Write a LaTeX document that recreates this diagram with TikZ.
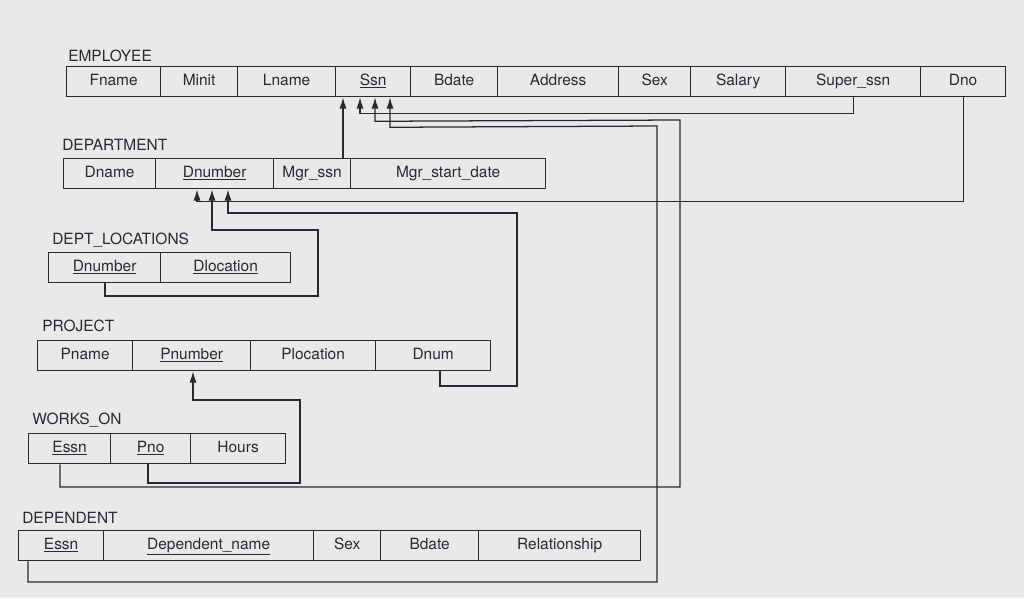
\documentclass[tikz,border=0pt]{standalone}
\usepackage{fontspec}
\setmainfont{TeX Gyre Heros}
\usetikzlibrary{calc,arrows.meta}
\definecolor{paper}{HTML}{E9E9EB}
\definecolor{ink}{HTML}{2A2A2E}
\tikzset{
  cell/.style={draw=ink, line width=0.9pt, inner sep=0pt, minimum height=0.75cm, text height=1.6ex, text depth=0.6ex, anchor=north west, text=ink, font=\fontsize{11}{12}\selectfont},
  ttl/.style={anchor=west, text=ink, font=\fontsize{11}{12}\selectfont, inner sep=0pt},
  con/.style={draw=ink, line width=0.9pt},
  arr/.style={con, -{Latex[length=8pt,width=5pt]}}
}
\newcommand{\ul}[1]{\underline{#1}}
\newcommand{\mkcell}[5]{\node[cell, minimum width={(#3-#2)*0.025cm}] (#1) at (#2,#4) {#5};}
\begin{document}
\begin{tikzpicture}[x=0.025cm,y=-0.025cm]
\fill[paper] (0,0) rectangle (1024,598);
\useasboundingbox (0,0) rectangle (1024,598);
% EMPLOYEE
\node[ttl] (tEmp) at (68,56) {EMPLOYEE};
\mkcell{fname}{66}{160}{66}{Fname}
\mkcell{minit}{160}{237}{66}{Minit}
\mkcell{lname}{237}{335}{66}{Lname}
\mkcell{ssn}{335}{410}{66}{\ul{Ssn}}
\mkcell{bdate}{410}{497}{66}{Bdate}
\mkcell{addr}{497}{618}{66}{Address}
\mkcell{sex}{618}{690}{66}{Sex}
\mkcell{sal}{690}{785}{66}{Salary}
\mkcell{supssn}{785}{920}{66}{Super\_ssn}
\mkcell{dno}{920}{1005}{66}{Dno}
% DEPARTMENT
\node[ttl] (tDep) at (62,145) {DEPARTMENT};
\mkcell{dname}{63}{155}{158}{Dname}
\mkcell{dnumber}{155}{273}{158}{\ul{Dnumber}}
\mkcell{mgrssn}{273}{350}{158}{Mgr\_ssn}
\mkcell{mgrsd}{350}{545}{158}{Mgr\_start\_date}
% DEPT_LOCATIONS
\node[ttl] (tLoc) at (52,240) {DEPT\_LOCATIONS};
\mkcell{ldnum}{48}{160}{252}{\ul{Dnumber}}
\mkcell{dloc}{160}{290}{252}{\ul{Dlocation}}
% PROJECT
\node[ttl] (tProj) at (42,326) {PROJECT};
\mkcell{pname}{37}{132}{340}{Pname}
\mkcell{pnumber}{132}{250}{340}{\ul{Pnumber}}
\mkcell{ploc}{250}{375}{340}{Plocation}
\mkcell{dnum}{375}{490}{340}{Dnum}
% WORKS_ON
\node[ttl] (tWo) at (32,420) {WORKS\_ON};
\mkcell{wessn}{28}{110}{433}{\ul{Essn}}
\mkcell{pno}{110}{190}{433}{\ul{Pno}}
\mkcell{hours}{190}{285}{433}{Hours}
% DEPENDENT
\node[ttl] (tDp) at (22,518) {DEPENDENT};
\mkcell{dessn}{18}{103}{530}{\ul{Essn}}
\mkcell{depname}{103}{313}{530}{\ul{Dependent\_name}}
\mkcell{dsex}{313}{380}{530}{Sex}
\mkcell{dbdate}{380}{478}{530}{Bdate}
\mkcell{rel}{478}{640}{530}{Relationship}
% connectors to Ssn
\draw[arr] ($(ssn.south west)+(8,62)$) -- ($(ssn.south west)+(8,0)$);
\draw[arr] (supssn.south) |- ($(ssn.south west)+(25,16)$) -- ($(ssn.south west)+(25,0)$);
\draw[arr] ($(wessn.south west)+(32,0)$) |- (680,487) -- (680,120) -- ($(ssn.south west)+(40,24)$) -- ($(ssn.south west)+(40,0)$);
\draw[arr] ($(dessn.south west)+(10,0)$) |- (657,582) -- (657,126) -- ($(ssn.south west)+(55,30)$) -- ($(ssn.south west)+(55,0)$);
% connectors to Dnumber
\draw[arr] (dno.south) |- ($(dnumber.south west)+(42,12)$) -- ($(dnumber.south west)+(42,0)$);
\draw[arr] ($(ldnum.south west)+(57,0)$) |- (318,296) -- (318,230) -| ($(dnumber.south west)+(57,0)$);
\draw[arr] ($(dnum.south west)+(65,0)$) |- (517,386) -- (517,213) -| ($(dnumber.south west)+(73,0)$);
% connector to Pnumber
\draw[arr] ($(pno.south west)+(38,0)$) |- (300,483) -- (300,400) -| ($(pnumber.south west)+(61,0)$);
\end{tikzpicture}
\end{document}
